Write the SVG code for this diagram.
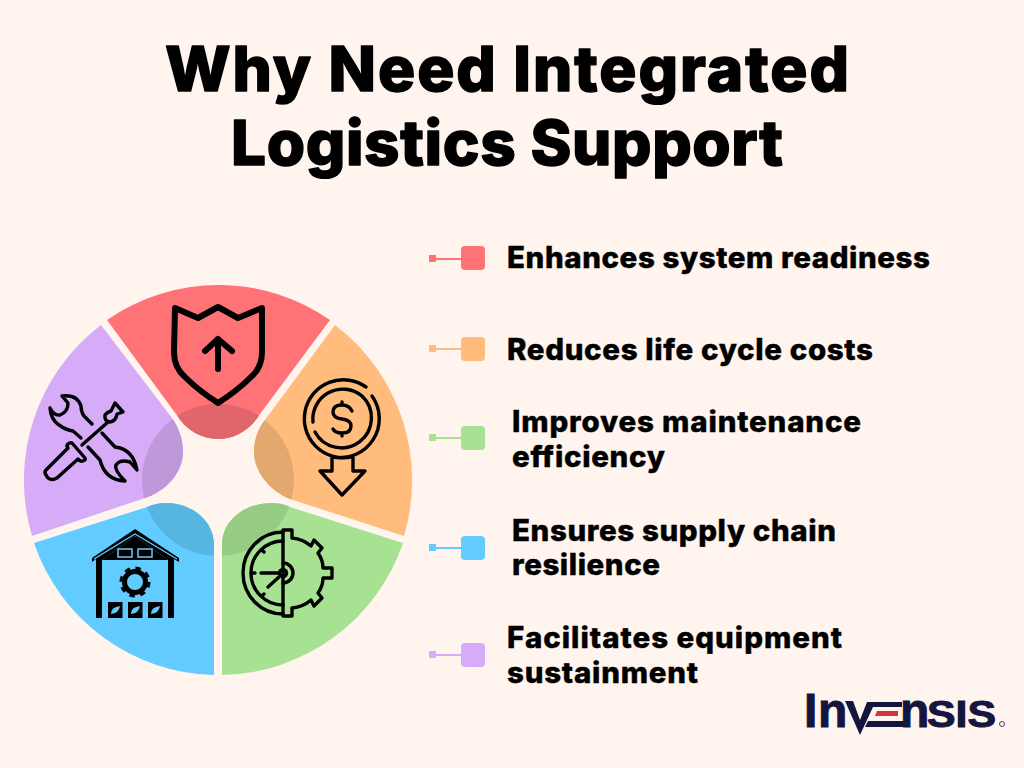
<svg xmlns="http://www.w3.org/2000/svg" width="1024" height="768" viewBox="0 0 1024 768">
<style>
.t{font-family:"Inter","Liberation Sans",sans-serif;font-weight:800;fill:#000;stroke:#000;stroke-linejoin:round}
.title{font-size:62px;stroke-width:1.4}
.lab{font-size:29.500px;stroke-width:.4}
.ic{fill:none;stroke:#000;stroke-width:3.4;stroke-linecap:round;stroke-linejoin:round}
.thick{stroke-width:6}
.logo{font-family:"Liberation Sans",sans-serif;font-weight:700;fill:#14163f;stroke:#14163f;stroke-width:1}
</style>
<defs>
<clipPath id="hub"><circle cx="218" cy="480" r="76"/></clipPath>
<path id="sr" d="M107,320 A195,195 0 0 1 330,320 L260,414 C250,430 235,439 218,439 C201,439 186,430 176,414 Z"/>
<path id="so" d="M335,325 A195,195 0 0 1 404,536 L290,499 C268,490 254,470 254,452 C254,440 258,428 265,420 Z"/>
<path id="sg" d="M403,543 A195,195 0 0 1 222,675 L222,545 C222,520 245,503 272,503 Q282,503 290,507 Z"/>
<path id="sb" d="M214,675 A195,195 0 0 1 34,543 L147,507 Q156,503 166,503 C191,503 214,520 214,545 Z"/>
<path id="sp" d="M32,536 A195,195 0 0 1 101,325 L172,418 C179,428 183,440 183,452 C183,470 170,488 148,497 Z"/>
</defs>
<rect width="1024" height="768" fill="#fff5ee"/>
<g id="title">
<text class="t title" x="165" y="91" textLength="684">Why Need Integrated</text>
<text class="t title" x="231" y="165" textLength="552">Logistics Support</text>
</g>
<g id="segment-readiness">
<use href="#sr" fill="#ff7276"/><use href="#sr" fill="#e0666c" clip-path="url(#hub)"/>
<g class="ic thick">
<path d="M175,308 L198,318 L218,307 L238,318 L262,308 V352 C262,362 258,371 251,377 C241,387 229,396 218,403 C207,396 195,387 185,377 C178,371 174,362 174,352 Z"/>
<path d="M218,369 V339 M205,351 L218,339 L232,351"/>
</g>
</g>
<g id="segment-costs">
<use href="#so" fill="#ffbc7d"/><use href="#so" fill="#e2a870" clip-path="url(#hub)"/>
<g class="ic">
<path d="M366,387 A39,39 0 1 0 351,457 M372,396 A39,39 0 0 1 333,457"/>
<path d="M313,422 A30,30 0 0 1 362,396 A30,30 0 1 1 315,432"/>
<path d="M352,411 Q349,405 342,405 Q333,405 333,412 Q333,418 342,419 Q351,420 351,426 Q351,433 342,433 Q335,433 333,429 M342,402 V405 M342,433 V436"/>
<path d="M332,458 V471 H320 L342,495 L365,471 H353 V458"/>
</g>
</g>
<g id="segment-maintenance">
<use href="#sg" fill="#a6e292"/><use href="#sg" fill="#96cc84" clip-path="url(#hub)"/>
<g class="ic">
<path d="M283,532 A40,41 0 0 0 283,614"/>
<path d="M283,541 A32,32 0 0 0 283,605"/>
<path d="M283,530 V616 M283,530 H292 V538 Q303,539 311,546 L314,540 L322,548 L318,553 Q323,560 323,568 H332 V578 H323 Q323,586 318,593 L322,598 L314,606 L311,600 Q303,607 292,608 V616 H283"/>
<path d="M283,563 A10,10 0 0 1 283,583"/>
<circle cx="283" cy="573" r="3.500"/>
<path d="M261,573 H278 M268,587 L279,577"/>
<path d="M253,573 H255 M262,550 L264,552 M262,596 L264,594"/>
</g>
</g>
<g id="segment-resilience">
<use href="#sb" fill="#62cbff"/><use href="#sb" fill="#57b5e2" clip-path="url(#hub)"/>
<path fill="#000" d="M135,529 L179,558 L179,562 L174,559 V618 H168 V560 L135,536 L102,560 V618 H96 V559 L92,562 V558 Z"/>
<path fill="#000" d="M135,536 L168,560 H102 Z"/>
<path fill="none" stroke="#62cbff" stroke-width="1.300" d="M94,559 L135,534 L177,559"/>
<g fill="none" stroke="#62cbff" stroke-width="1.500"><rect x="118" y="549" width="14" height="8"/><rect x="138" y="549" width="14" height="8"/></g>
<circle cx="135" cy="582" r="10.500" fill="none" stroke="#000" stroke-width="5"/>
<circle cx="135" cy="582" r="14" fill="none" stroke="#000" stroke-width="3" stroke-dasharray="5.500 5.500"/>
<g fill="#000"><rect x="108" y="602" width="14.500" height="16"/><rect x="128" y="602" width="14.500" height="16"/><rect x="148" y="602" width="14.500" height="16"/></g>
<g fill="#62cbff"><path d="M111,614 Q111,607 120,606 Q119,613 111,614Z"/><path d="M131,614 Q131,607 140,606 Q139,613 131,614Z"/><path d="M151,614 Q151,607 160,606 Q159,613 151,614Z"/></g>
</g>
<g id="segment-sustainment">
<use href="#sp" fill="#d6abf8"/><use href="#sp" fill="#be98d8" clip-path="url(#hub)"/>
<g class="ic">
<path d="M62,396 Q77,394 81,406 Q81,412 84,416 L92,424 M50,408 Q51,420 59,425 Q66,430 73,431 L81,438 M62,396 L68,403 Q68,412 60,415 Q54,416 50,408"/>
<path d="M102,433 L115,447 Q133,449 137,470 L130,462 Q120,459 116,465 Q114,470 125,481 Q105,480 100,460 L88,447"/>
<path d="M115,403 L123,412 L117,414 Q116,421 110,422 Q104,421 105,415 Q107,412 111,411 Z M108,422 L82,445"/>
<path d="M72,443 L85,458 Q86,460 83,461 Q80,462 78,459 L57,478 Q52,481 48,478 L46,475 Q44,472 46,470 L68,448 Q66,446 68,444 Q70,442 72,443 Z"/>
</g>
</g>
<g id="connectors">
<g stroke-width="2">
<path stroke="#ff7276" d="M434,259 H461"/><path stroke="#ffbc7d" d="M434,349 H461"/><path stroke="#a6e292" d="M434,438 H461"/><path stroke="#62cbff" d="M434,548 H461"/><path stroke="#d6abf8" d="M434,655 H461"/>
</g>
</g>
<g id="item-1"><rect x="429" y="255" width="7" height="7" fill="#ff7276"/><rect x="461" y="246" width="24" height="24" rx="4" fill="#ff7276"/><text class="t lab" x="507" y="268" textLength="423">Enhances system readiness</text></g>
<g id="item-2"><rect x="429" y="345" width="7" height="7" fill="#ffbc7d"/><rect x="461" y="337" width="24" height="24" rx="4" fill="#ffbc7d"/><text class="t lab" x="507" y="360" textLength="366">Reduces life cycle costs</text></g>
<g id="item-3"><rect x="429" y="434" width="7" height="7" fill="#a6e292"/><rect x="461" y="426" width="24" height="24" rx="4" fill="#a6e292"/><text class="t lab"><tspan x="512" y="432" textLength="349">Improves maintenance</tspan><tspan x="512" y="467" textLength="153">efficiency</tspan></text></g>
<g id="item-4"><rect x="429" y="544" width="7" height="7" fill="#62cbff"/><rect x="461" y="536" width="24" height="24" rx="4" fill="#62cbff"/><text class="t lab"><tspan x="512" y="541" textLength="324">Ensures supply chain</tspan><tspan x="512" y="575" textLength="148">resilience</tspan></text></g>
<g id="item-5"><rect x="429" y="651" width="7" height="7" fill="#d6abf8"/><rect x="461" y="643" width="24" height="24" rx="4" fill="#d6abf8"/><text class="t lab"><tspan x="507" y="648" textLength="335">Facilitates equipment</tspan><tspan x="507" y="683" textLength="191">sustainment</tspan></text></g>
<g id="logo">
<text class="logo" y="727" font-size="48"><tspan x="804">I</tspan><tspan x="818">n</tspan></text>
<path fill="#14163f" d="M845,701 H853 L860,720 L867,702 H902 V707 H873 L860,735 Z"/>
<path fill="#14163f" d="M868,721 H906 V727 H865 Z"/>
<path fill="#d0363f" d="M877,711 H898 V716 H875 Z"/>
<text class="logo" x="900" y="727" font-size="48">n</text>
<text class="logo" x="927" y="727" font-size="37" textLength="69" lengthAdjust="spacingAndGlyphs">SIS</text>
<circle cx="1002" cy="724" r="2.500" fill="none" stroke="#14163f" stroke-width=".8"/>
</g>
</svg>
